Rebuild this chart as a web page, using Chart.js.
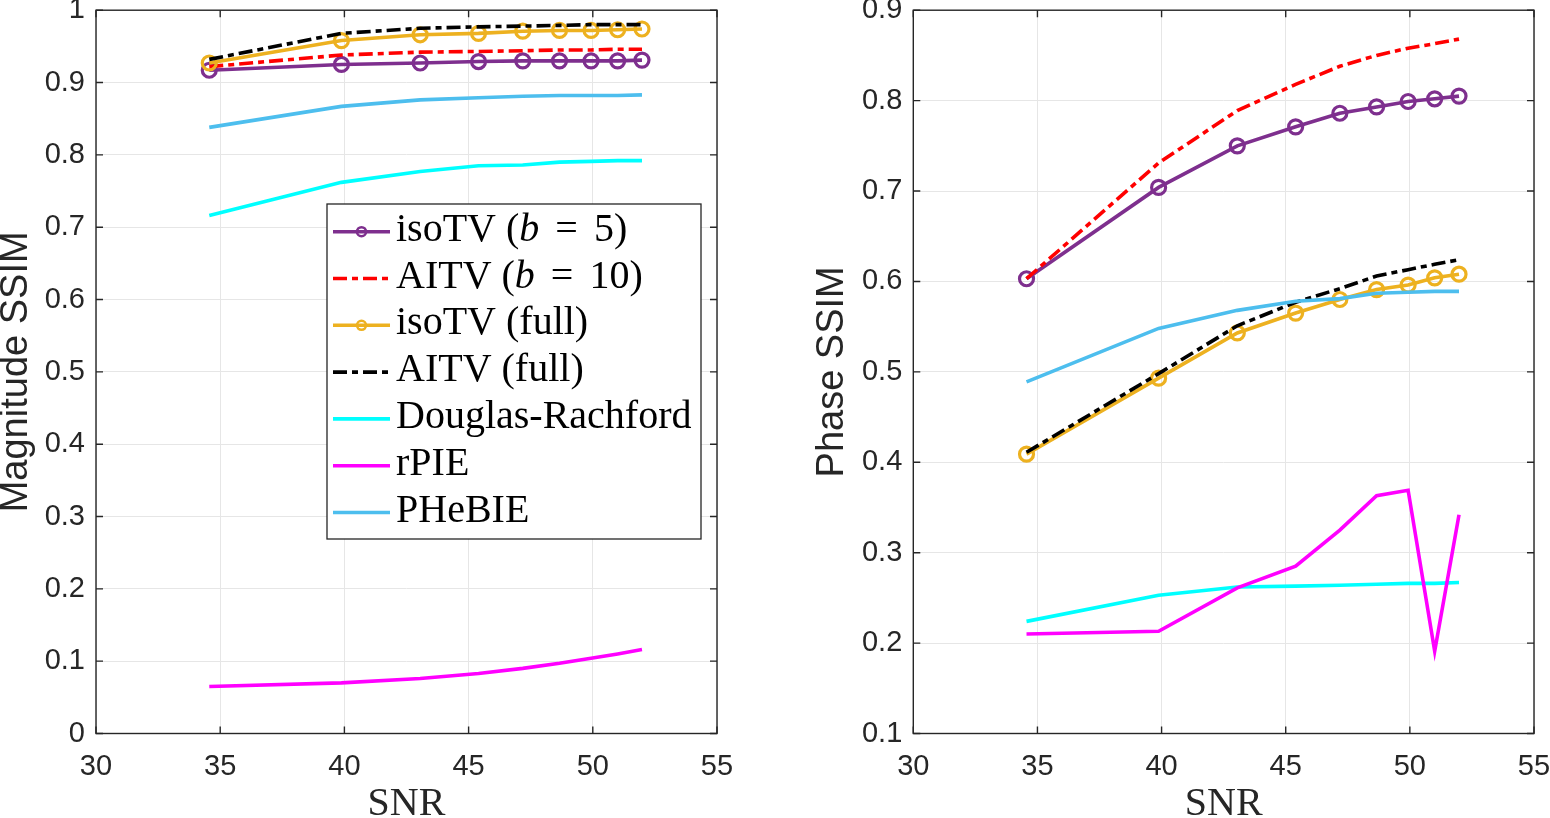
<!DOCTYPE html>
<html>
<head>
<meta charset="utf-8">
<script src="https://cdn.jsdelivr.net/npm/chart.js@4.4.1/dist/chart.umd.min.js"></script>
<style>
  html, body { margin: 0; padding: 0; background: #fff; overflow: hidden; }
  canvas { position: absolute; top: 0; }
  #magChart { left: 0; }
  #phaseChart { left: 775px; }
</style>
</head>
<body>
<canvas id="magChart" width="775" height="818"></canvas>
<canvas id="phaseChart" width="775" height="818"></canvas>
<script>
// SNR values shared by every curve
const snr = [34.56, 39.88, 43.05, 45.40, 47.18, 48.66, 49.93, 51.00, 51.98];

const xTicks = [30, 35, 40, 45, 50, 55];
const magTicks = [0, 0.1, 0.2, 0.3, 0.4, 0.5, 0.6, 0.7, 0.8, 0.9, 1];
const phaseTicks = [0.1, 0.2, 0.3, 0.4, 0.5, 0.6, 0.7, 0.8, 0.9];

const seriesNames = ["isoTV (b = 5)", "AITV (b = 10)", "isoTV (full)", "AITV (full)",
  "Douglas-Rachford", "rPIE", "PHeBIE"];

// Magnitude SSIM
const magIsoB5   = [0.917, 0.925, 0.927, 0.929, 0.930, 0.930, 0.930, 0.930, 0.931];
const magAitvB10 = [0.922, 0.938, 0.942, 0.943, 0.944, 0.945, 0.945, 0.946, 0.946];
const magIsoFull = [0.927, 0.958, 0.966, 0.968, 0.971, 0.972, 0.972, 0.973, 0.974];
const magAitvFull= [0.932, 0.968, 0.975, 0.977, 0.978, 0.979, 0.980, 0.980, 0.980];
const magDR      = [0.716, 0.762, 0.777, 0.785, 0.786, 0.790, 0.791, 0.792, 0.792];
const magRPIE    = [0.065, 0.070, 0.076, 0.083, 0.090, 0.097, 0.104, 0.110, 0.116];
const magPHeBIE  = [0.838, 0.867, 0.876, 0.879, 0.881, 0.882, 0.882, 0.882, 0.883];

// Phase SSIM
const phIsoB5    = [0.603, 0.704, 0.750, 0.771, 0.786, 0.793, 0.799, 0.802, 0.805];
const phAitvB10  = [0.603, 0.731, 0.789, 0.818, 0.838, 0.850, 0.858, 0.863, 0.868];
const phIsoFull  = [0.409, 0.493, 0.543, 0.565, 0.580, 0.591, 0.596, 0.604, 0.608];
const phAitvFull = [0.411, 0.498, 0.551, 0.577, 0.592, 0.606, 0.613, 0.619, 0.624];
const phDR       = [0.224, 0.253, 0.262, 0.263, 0.264, 0.265, 0.266, 0.266, 0.267];
const phRPIE     = [0.210, 0.213, 0.261, 0.285, 0.325, 0.363, 0.369, 0.191, 0.342];
const phPHeBIE   = [0.489, 0.548, 0.568, 0.578, 0.581, 0.587, 0.588, 0.589, 0.589];

const colors = ["#7E2F8E", "#FF0000", "#EDB120", "#000000", "#00FFFF", "#FF00FF", "#4DBEEE"];
const dashes = [[], [14, 5, 6, 5], [], [14, 5, 6, 5], [], [], []];
const markers = [true, false, true, false, false, false, false];

const TICK_FONT = { family: "'Liberation Sans', Arial, sans-serif", size: 29 };
const TEXT_COLOR = "#262626";

function makeDatasets(seriesList) {
  return seriesList.map((vals, i) => ({
    label: seriesNames[i],
    data: snr.map((x, k) => ({ x: x, y: vals[k] })),
    borderColor: colors[i],
    borderWidth: 3.6,
    borderDash: dashes[i],
    pointRadius: markers[i] ? 7 : 0,
    pointBorderWidth: 3.2,
    pointBorderColor: colors[i],
    pointBackgroundColor: "rgba(0,0,0,0)",
    tension: 0,
    fill: false,
    order: seriesList.length - i
  }));
}

// box round the axes with inward ticks on all four sides
const matlabAxes = {
  id: "matlabAxes",
  afterDraw(chart) {
    const { ctx, chartArea: a, scales } = chart;
    ctx.save();
    ctx.strokeStyle = TEXT_COLOR;
    ctx.lineWidth = 1.4;
    ctx.strokeRect(a.left, a.top, a.right - a.left, a.bottom - a.top);
    const len = 7;
    ctx.beginPath();
    scales.x.ticks.forEach(t => {
      const px = scales.x.getPixelForValue(t.value);
      ctx.moveTo(px, a.bottom); ctx.lineTo(px, a.bottom - len);
      ctx.moveTo(px, a.top); ctx.lineTo(px, a.top + len);
    });
    scales.y.ticks.forEach(t => {
      const py = scales.y.getPixelForValue(t.value);
      ctx.moveTo(a.left, py); ctx.lineTo(a.left + len, py);
      ctx.moveTo(a.right, py); ctx.lineTo(a.right - len, py);
    });
    ctx.stroke();
    ctx.restore();
  }
};

// legend drawn inside the magnitude plot
const boxLegend = {
  id: "boxLegend",
  afterDraw(chart) {
    const ctx = chart.ctx;
    const bx = 327, by = 204, bw = 374, bh = 335;
    ctx.save();
    ctx.fillStyle = "#fff";
    ctx.fillRect(bx, by, bw, bh);
    ctx.strokeStyle = TEXT_COLOR;
    ctx.lineWidth = 1.3;
    ctx.strokeRect(bx, by, bw, bh);
    const serif = "'Liberation Serif', 'Times New Roman', serif";
    seriesNames.forEach((name, i) => {
      const y = 231.7 + i * 46.8;
      ctx.strokeStyle = colors[i];
      ctx.lineWidth = 3.6;
      ctx.setLineDash(dashes[i]);
      ctx.beginPath();
      ctx.moveTo(333, y); ctx.lineTo(390, y);
      ctx.stroke();
      ctx.setLineDash([]);
      if (markers[i]) {
        ctx.beginPath();
        ctx.arc(361.5, y, 4.5, 0, Math.PI * 2);
        ctx.lineWidth = 2.6;
        ctx.stroke();
      }
      ctx.fillStyle = "#000";
      ctx.textBaseline = "alphabetic";
      let x = 396;
      const base = y + 9;
      // math part "(b = n)": italic b, wider gaps round "="
      const m = name.match(/^(.*\()b = (.*)$/);
      const parts = m
        ? [[m[1], "", 0], ["b", "italic ", 7], ["=", "", 7], [m[2], "", 0]]
        : [[name, "", 0]];
      parts.forEach(([txt, style, gap]) => {
        ctx.font = style + "40px " + serif;
        ctx.fillText(txt, x, base);
        x += ctx.measureText(txt).width + gap + (gap ? 9 : 0);
      });
    });
    ctx.restore();
  }
};

function makeChart(id, datasets, yTicks, yTitle, yWidth, padRight, yTitlePad, withLegend) {
  const plugins = [matlabAxes];
  if (withLegend) plugins.push(boxLegend);
  return new Chart(document.getElementById(id), {
    type: "line",
    data: { datasets: datasets },
    plugins: plugins,
    options: {
      responsive: false,
      animation: false,
      devicePixelRatio: 1,
      layout: { padding: { left: 0, top: 10, right: padRight, bottom: 0 } },
      plugins: { legend: { display: false }, tooltip: { enabled: false } },
      scales: {
        x: {
          type: "linear",
          min: xTicks[0],
          max: xTicks[xTicks.length - 1],
          afterBuildTicks: s => { s.ticks = xTicks.map(v => ({ value: v })); },
          afterFit: s => { s.height = 84.5; s.paddingLeft = 0; s.paddingRight = 0; },
          grid: { color: "#e6e6e6", lineWidth: 1, drawTicks: false },
          border: { display: false },
          ticks: { font: TICK_FONT, color: TEXT_COLOR, padding: 16, maxRotation: 0, autoSkip: false,
                   callback: v => String(v) },
          title: { display: true, text: "SNR", color: TEXT_COLOR,
                   font: { family: "'Liberation Serif', 'Times New Roman', serif", size: 40, lineHeight: 1 },
                   padding: { top: 0, bottom: -6 } }
        },
        y: {
          type: "linear",
          min: yTicks[0],
          max: yTicks[yTicks.length - 1],
          afterBuildTicks: s => { s.ticks = yTicks.map(v => ({ value: v })); },
          afterFit: s => { s.width = yWidth; s.paddingTop = 0; s.paddingBottom = 0; },
          grid: { color: "#e6e6e6", lineWidth: 1, drawTicks: false },
          border: { display: false },
          ticks: { font: TICK_FONT, color: TEXT_COLOR, padding: 11, autoSkip: false,
                   callback: v => String(v) },
          title: { display: true, text: yTitle, color: TEXT_COLOR,
                   font: { family: "'Liberation Sans', Arial, sans-serif", size: 38, lineHeight: 1 },
                   padding: { top: yTitlePad, bottom: 0 } }
        }
      }
    }
  });
}

makeChart("magChart",
  makeDatasets([magIsoB5, magAitvB10, magIsoFull, magAitvFull, magDR, magRPIE, magPHeBIE]),
  magTicks, "Magnitude SSIM", 96, 58, -2, true);

makeChart("phaseChart",
  makeDatasets([phIsoB5, phAitvB10, phIsoFull, phAitvFull, phDR, phRPIE, phPHeBIE]),
  phaseTicks, "Phase SSIM", 138.3, 16, 38.5, false);
</script>
</body>
</html>
